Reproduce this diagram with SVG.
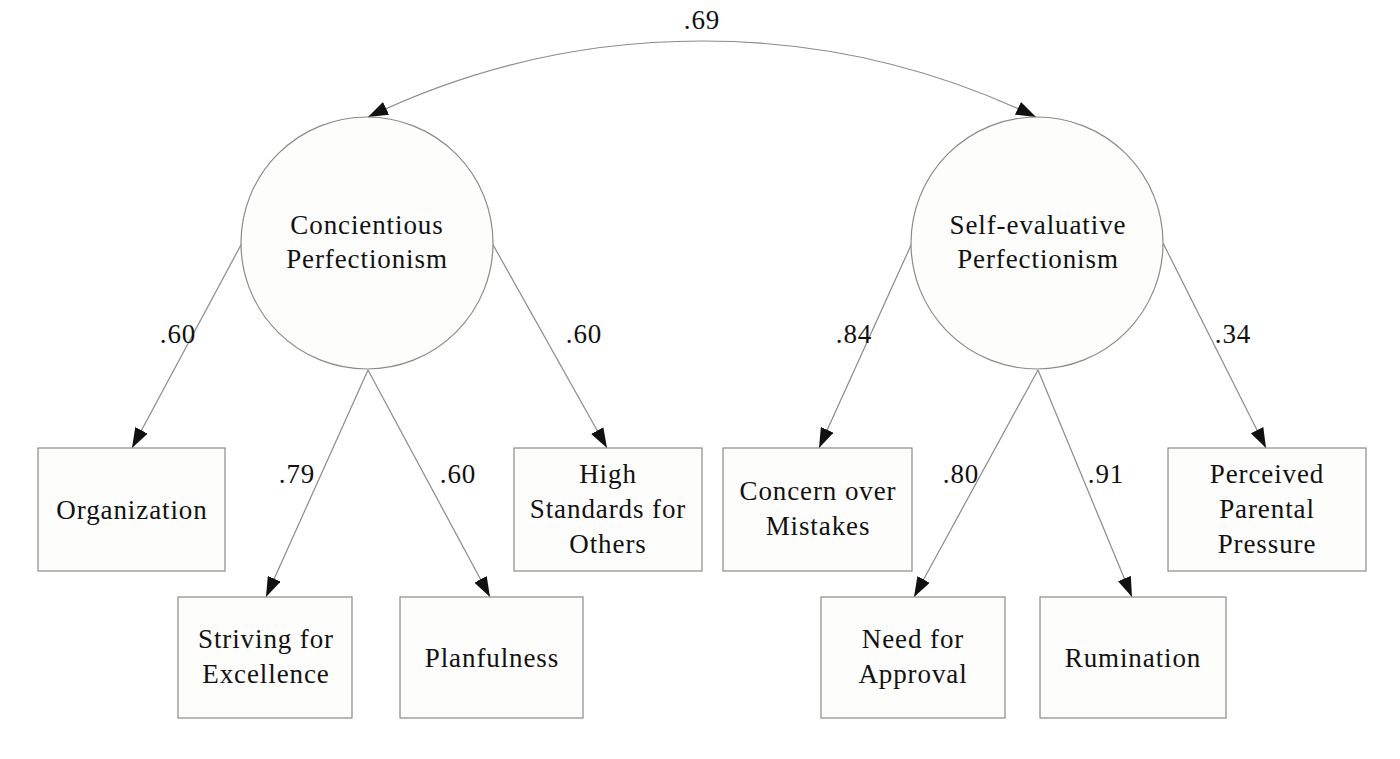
<svg xmlns="http://www.w3.org/2000/svg" width="1400" height="759" viewBox="0 0 1400 759">
<defs>
<marker id="ah" viewBox="0 0 20 14" markerWidth="20" markerHeight="14" refX="20" refY="7" orient="auto-start-reverse" markerUnits="userSpaceOnUse">
<path d="M0,0 L20,7 L0,14 z" fill="#111"/>
</marker>
<style>
.shape{fill:#fdfdfb;stroke:#8a8a8a;stroke-width:1.2}
.edge{fill:none;stroke:#8a8a8a;stroke-width:1.2}
text{font-family:"Liberation Serif","Times New Roman",serif;font-size:27px;fill:#111;text-anchor:middle;letter-spacing:0.9px}
</style>
</defs>
<rect width="1400" height="759" fill="#ffffff"/>
<g id="connectors">
<path class="edge" d="M368,117 A772,772 0 0 1 1036,117" marker-start="url(#ah)" marker-end="url(#ah)"/>
<line class="edge" x1="242" y1="243" x2="132" y2="448" marker-end="url(#ah)"/>
<line class="edge" x1="368" y1="370" x2="266" y2="597" marker-end="url(#ah)"/>
<line class="edge" x1="368" y1="370" x2="490" y2="597" marker-end="url(#ah)"/>
<line class="edge" x1="492" y1="243" x2="607" y2="448" marker-end="url(#ah)"/>
<line class="edge" x1="912" y1="243" x2="819" y2="448" marker-end="url(#ah)"/>
<line class="edge" x1="1038" y1="370" x2="914" y2="597" marker-end="url(#ah)"/>
<line class="edge" x1="1038" y1="370" x2="1132" y2="597" marker-end="url(#ah)"/>
<line class="edge" x1="1163" y1="243" x2="1266" y2="448" marker-end="url(#ah)"/>
<text x="702" y="29">.69</text>
<text x="178" y="343">.60</text>
<text x="584" y="343">.60</text>
<text x="297" y="483">.79</text>
<text x="458" y="483">.60</text>
<text x="854" y="343">.84</text>
<text x="961" y="483">.80</text>
<text x="1106" y="483">.91</text>
<text x="1233" y="343">.34</text>
</g>
<g id="concientious">
<circle class="shape" cx="367" cy="243" r="126"/>
<text x="367" y="234">Concientious</text>
<text x="367" y="268">Perfectionism</text>
</g>
<g id="selfevaluative">
<circle class="shape" cx="1037" cy="243" r="126"/>
<text x="1038" y="234">Self-evaluative</text>
<text x="1038" y="268">Perfectionism</text>
</g>
<g id="organization">
<rect class="shape" x="38" y="448" width="187" height="123"/>
<text x="132" y="519">Organization</text>
</g>
<g id="striving">
<rect class="shape" x="178" y="597" width="174" height="121"/>
<text x="266" y="648">Striving for</text>
<text x="266" y="683">Excellence</text>
</g>
<g id="planfulness">
<rect class="shape" x="400" y="597" width="183" height="121"/>
<text x="492" y="667">Planfulness</text>
</g>
<g id="highstandards">
<rect class="shape" x="514" y="448" width="188" height="123"/>
<text x="608" y="483">High</text>
<text x="608" y="518">Standards for</text>
<text x="608" y="553">Others</text>
</g>
<g id="concern">
<rect class="shape" x="723" y="448" width="189" height="123"/>
<text x="818" y="500">Concern over</text>
<text x="818" y="535">Mistakes</text>
</g>
<g id="needapproval">
<rect class="shape" x="821" y="597" width="184" height="121"/>
<text x="913" y="648">Need for</text>
<text x="913" y="683">Approval</text>
</g>
<g id="rumination">
<rect class="shape" x="1040" y="597" width="186" height="121"/>
<text x="1133" y="667">Rumination</text>
</g>
<g id="perceived">
<rect class="shape" x="1168" y="448" width="198" height="123"/>
<text x="1267" y="483">Perceived</text>
<text x="1267" y="518">Parental</text>
<text x="1267" y="553">Pressure</text>
</g>
</svg>
